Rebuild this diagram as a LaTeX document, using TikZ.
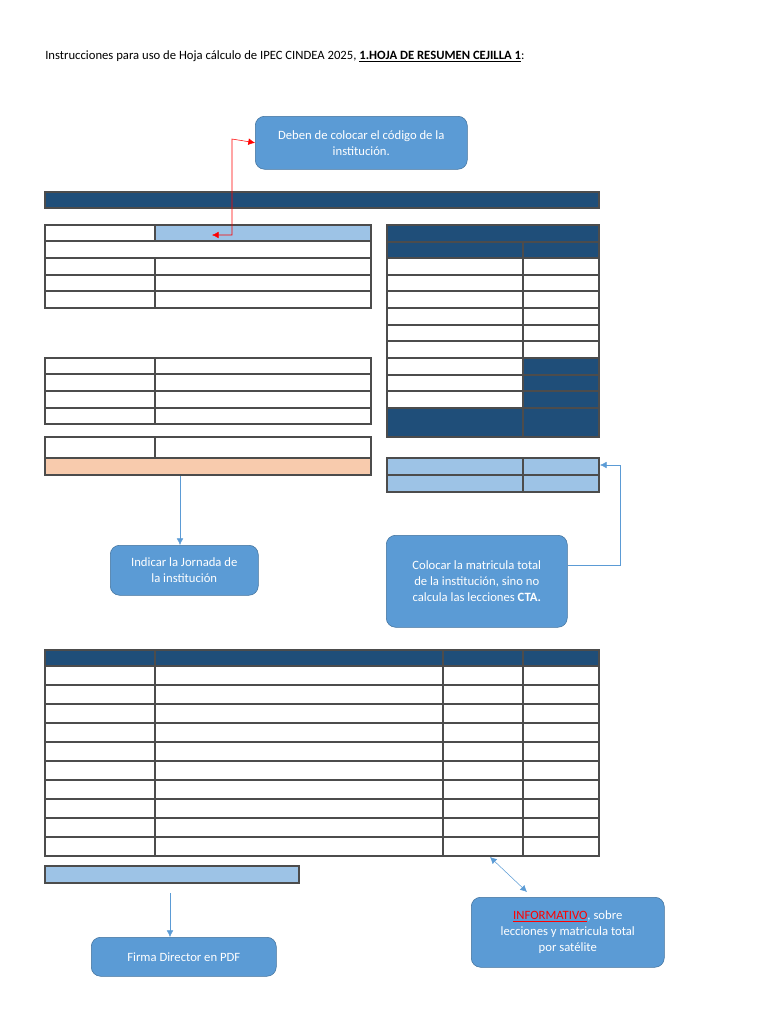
\documentclass[tikz,border=0pt]{standalone}
\usepackage{fontspec}
\setmainfont{Carlito}
\usetikzlibrary{arrows.meta}
\definecolor{dk}{HTML}{1F4E79}
\definecolor{lb}{HTML}{9DC3E6}
\definecolor{cb}{HTML}{5B9BD5}
\definecolor{cbb}{HTML}{41719C}
\definecolor{orb}{HTML}{F8CBAD}
\definecolor{ab}{HTML}{5B9BD5}
\tikzset{
 callout/.style={draw=cbb,fill=cb,rounded corners=7pt,text=white,align=center,font=\fontsize{9.5}{12}\selectfont,inner sep=0pt,anchor=north west},
 cell/.style={draw=black!70,line width=0.8pt},
 conn/.style={draw=ab,-{Latex[length=5pt,width=5pt]}},
}
\newcommand{\bx}[5]{\path[cell,fill=#5] (#1,#2) rectangle (#3,#4);}
\begin{document}
\begin{tikzpicture}[x=0.75pt,y=-0.75pt]
\useasboundingbox (0,0) rectangle (768,1024);
\node[anchor=west,font=\fontsize{9.5}{12}\selectfont,inner sep=0pt] (title) at (45,56) {Instrucciones para uso de Hoja cálculo de IPEC CINDEA 2025, \textbf{\underline{1.HOJA DE RESUMEN CEJILLA 1}}:};
% callout 1
\node[callout,minimum width=212*0.75pt,minimum height=53*0.75pt] (c1) at (255,116) {Deben de colocar el código de la\\institución.};
% top bar
\bx{45}{192}{599}{208}{dk}
% left block A
\bx{45}{225}{155}{241}{white}
\bx{155}{225}{371}{241}{lb}
\bx{45}{241}{371}{258}{white}
\foreach \a/\b in {258/275,275/291,291/308,358/374,374/391,391/408,408/424,437/458}{
 \bx{45}{\a}{155}{\b}{white}
 \bx{155}{\a}{371}{\b}{white}
}
\bx{45}{458}{371}{475}{orb}
\coordinate (orb) at (180,476);
% right table
\bx{387}{225}{599}{242}{dk}
\bx{387}{242}{523}{258}{dk}
\bx{523}{242}{599}{258}{dk}
\foreach \a/\b in {258/275,275/291,291/308,308/325,325/341,341/358}{
 \bx{387}{\a}{523}{\b}{white}
 \bx{523}{\a}{599}{\b}{white}
}
\foreach \a/\b in {358/375,375/391,391/408}{
 \bx{387}{\a}{523}{\b}{white}
 \bx{523}{\a}{599}{\b}{dk}
}
\bx{387}{408}{523}{437}{dk}
\bx{523}{408}{599}{437}{dk}
\foreach \a/\b in {458/475,475/492}{
 \bx{387}{\a}{523}{\b}{lb}
 \bx{523}{\a}{599}{\b}{lb}
}
\coordinate (mt) at (600,465);
\coordinate (cod) at (212,235);
% red connector
\draw[red,{Latex[length=5pt,width=5pt]}-{Latex[length=5pt,width=5pt]}] (cod) -| (232,139) -- (c1.west);
% callouts
\node[callout,minimum width=148*0.75pt,minimum height=50*0.75pt] (c2) at (110,545) {Indicar la Jornada de\\la institución};
\node[callout,minimum width=181*0.75pt,minimum height=92*0.75pt] (c3) at (386,535) {Colocar la matricula total\\de la institución, sino no\\calcula las lecciones \textbf{CTA.}};
\draw[conn] (orb) -- (c2.north -| orb);
\draw[conn] (c3.east |- 0,565) -- (620,565) |- (mt);
% bottom table
\foreach \x/\y in {45/155,155/443,443/523,523/599}{
 \bx{\x}{650}{\y}{666}{dk}
 \foreach \a/\b in {666/685,685/704,704/723,723/742,742/761,761/780,780/799,799/818,818/837,837/856}{
  \bx{\x}{\a}{\y}{\b}{white}
 }
}
\bx{45}{866}{299}{883}{lb}
\coordinate (fb) at (170,893);
\coordinate (tb) at (490,857);
\node[callout,minimum width=185*0.75pt,minimum height=39*0.75pt] (c4) at (91,937) {Firma Director en PDF};
\node[callout,minimum width=193*0.75pt,minimum height=70*0.75pt] (c5) at (471,897) {{\color{red}\underline{INFORMATIVO}}, sobre\\lecciones y matricula total\\por satélite};
\draw[conn] (fb) -- (c4.north -| fb);
\draw[ab,{Latex[length=5pt,width=5pt]}-{Latex[length=5pt,width=5pt]}] (tb) -- (527,892);
\end{tikzpicture}
\end{document}
